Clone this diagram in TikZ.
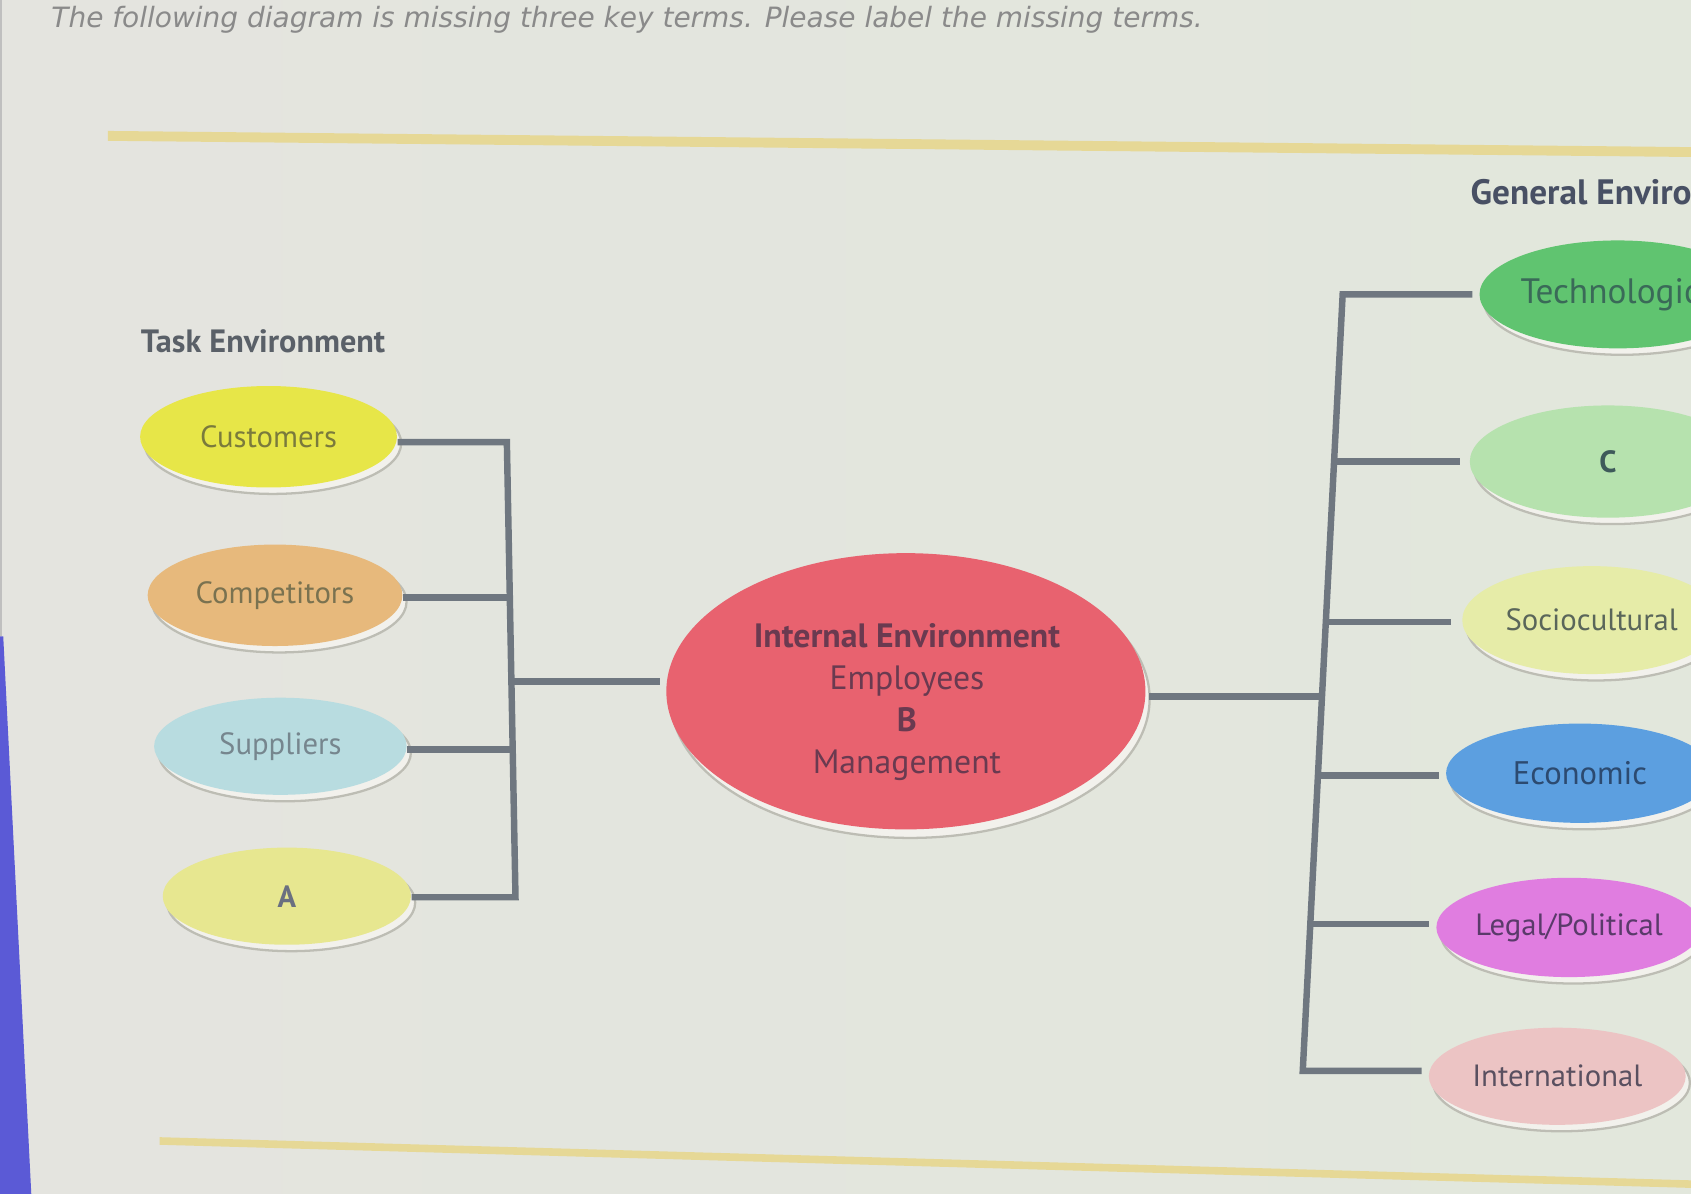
\documentclass[tikz,border=0pt]{standalone}
\usepackage{fontspec}
\setmainfont{PT Sans}
\newfontfamily\titlefont{DejaVu Sans}
\usetikzlibrary{shapes.geometric}
\definecolor{bgL}{HTML}{E4E4DF}
\definecolor{bgR}{HTML}{E2E7DC}
\definecolor{band}{HTML}{5B5AD6}
\definecolor{rule}{HTML}{E6D896}
\definecolor{linegray}{HTML}{6F7780}
\definecolor{shfill}{HTML}{F2F1EC}
\definecolor{shline}{HTML}{BDBDB4}
\definecolor{cCust}{HTML}{E7E648}
\definecolor{tCust}{HTML}{7A7A3C}
\definecolor{cComp}{HTML}{E7B97C}
\definecolor{tComp}{HTML}{7A7250}
\definecolor{cSupp}{HTML}{B8DCE0}
\definecolor{tSupp}{HTML}{76868E}
\definecolor{cA}{HTML}{E7E790}
\definecolor{tA}{HTML}{6A7080}
\definecolor{cInt}{HTML}{E8626F}
\definecolor{tInt}{HTML}{6A3A50}
\definecolor{cTech}{HTML}{60C470}
\definecolor{tTech}{HTML}{3A6A58}
\definecolor{cC}{HTML}{B6E2AE}
\definecolor{tC}{HTML}{3E5A5A}
\definecolor{cSoc}{HTML}{E6ECA8}
\definecolor{tSoc}{HTML}{5A665A}
\definecolor{cEco}{HTML}{5C9FE0}
\definecolor{tEco}{HTML}{2C4A70}
\definecolor{cLeg}{HTML}{E07DE0}
\definecolor{tLeg}{HTML}{5A3A6A}
\definecolor{cInl}{HTML}{ECC4C4}
\definecolor{tInl}{HTML}{5A5060}
\definecolor{tHead}{HTML}{5A6068}
\definecolor{tGen}{HTML}{485064}
\definecolor{tTitle}{HTML}{8A8A8A}

% #1 name, #2 x, #3 y, #4 rx, #5 ry, #6 fill, #7 text colour, #8 text
\newcommand\bubble[8]{%
  \filldraw[fill=shfill, draw=shline, line width=0.6pt] (#2+4,#3+6) ellipse [x radius=#4, y radius=#5];
  \node[bub, fill=#6, text=#7, minimum width=#4*0.02cm, minimum height=#5*0.02cm] (#1) at (#2,#3) {#8};
}

\begin{document}
\begin{tikzpicture}[x=0.01cm, y=-0.01cm,
  bub/.style={ellipse, inner sep=0pt, font=\fontsize{8.1}{9}\selectfont},
  conn/.style={draw=linegray, line width=1.7pt},
  headlbl/.style={anchor=west, font=\bfseries\fontsize{8.5}{10}\selectfont, inner sep=0pt},
]
\useasboundingbox (0,0) rectangle (1568,1107);
\clip (0,0) rectangle (1568,1107);
\shade[left color=bgL, right color=bgR] (0,0) rectangle (1568,1107);
\fill[band] (0,590) -- (3,590) -- (29,1107) -- (0,1107) -- cycle;
\fill[black!25] (0,0) rectangle (2,590);

% title
\node[anchor=west, inner sep=0pt, text=tTitle, font=\titlefont\itshape\fontsize{7.38}{9}\selectfont] (title) at (47,18)
  {The following diagram is missing three key terms. Please label the missing terms.};

% rules
\coordinate (r1a) at (100,126); \coordinate (r1b) at (1568,141);
\coordinate (r2a) at (148,1058); \coordinate (r2b) at (1568,1098);
\draw[rule, line width=2.6pt] (r1a) -- (r1b);
\draw[rule, line width=2pt] (r2a) -- (r2b);

% headings
\node[headlbl, text=tHead] (task) at (130,316) {Task Environment};
\node[headlbl, text=tGen, font=\bfseries\fontsize{9.3}{10}\selectfont] (gen) at (1363,178) {General Environment};

% left bubbles
\bubble{cust}{249}{405}{119}{47}{cCust}{tCust}{Customers}
\bubble{comp}{255}{552}{118}{47}{cComp}{tComp}{Competitors}
\bubble{supp}{260}{692}{117}{45}{cSupp}{tSupp}{Suppliers}
\bubble{aa}{266}{831}{115}{45}{cA}{tA}{\textbf{A}}

% centre
\filldraw[fill=shfill, draw=shline, line width=0.6pt] (844,648) ellipse [x radius=222, y radius=129];
\node[ellipse, fill=cInt, inner sep=0pt, minimum width=4.44cm, minimum height=2.56cm] (ie) at (840,641) {};
\node[align=center, text=tInt, font=\fontsize{8.9}{11}\selectfont, inner sep=0pt] (ietext) at (841,651)
  {\textbf{Internal Environment}\\Employees\\\textbf{B}\\Management};

% right bubbles
\bubble{tech}{1500}{273}{128}{50}{cTech}{tTech}{\makebox[0pt]{\fontsize{9.3}{10}\selectfont\hspace*{0.12cm}Technological}}
\bubble{cc}{1491}{428}{128}{52}{cC}{tC}{\textbf{C}}
\bubble{soc}{1476}{575}{120}{50}{cSoc}{tSoc}{Sociocultural}
\bubble{eco}{1465}{717}{124}{46}{cEco}{tEco}{\fontsize{8.6}{9}\selectfont Economic}
\bubble{leg}{1455}{860}{123}{46}{cLeg}{tLeg}{Legal/Political}
\bubble{inl}{1444}{998}{119}{45}{cInl}{tInl}{International}

% left tree
\coordinate (l1) at (470,410);
\coordinate (l2) at (472.7,554);
\coordinate (lc) at (474.2,632);
\coordinate (l3) at (475.4,695);
\coordinate (l4) at (478,832);
\draw[conn] (l1 -| cust.east) -- (l1) -- (l4) -- (l4 -| aa.east);
\draw[conn] (l2 -| comp.east) -- (l2);
\draw[conn] (l3 -| supp.east) -- (l3);
\draw[conn] (lc) -- ([xshift=-0.05cm]lc -| ie.west);

% right tree
\coordinate (r1) at (1245,273);
\coordinate (r2) at (1237,428);
\coordinate (r3) at (1229,577);
\coordinate (rc) at (1226,646);
\coordinate (r4) at (1222,719);
\coordinate (r5) at (1215,857);
\coordinate (r6) at (1208,993);
\draw[conn] ([xshift=-0.06cm]r1 -| tech.west) -- (r1) -- (r6) -- ([xshift=-0.06cm]r6 -| inl.west);
\draw[conn] (r2) -- ([xshift=-0.08cm]r2 -| cc.west);
\draw[conn] (r3) -- ([xshift=-0.1cm]r3 -| soc.west);
\draw[conn] (r4) -- ([xshift=-0.06cm]r4 -| eco.west);
\draw[conn] (r5) -- ([xshift=-0.06cm]r5 -| leg.west);
\draw[conn] ([xshift=0.03cm]rc -| ie.east) -- (rc);
\end{tikzpicture}
\end{document}
